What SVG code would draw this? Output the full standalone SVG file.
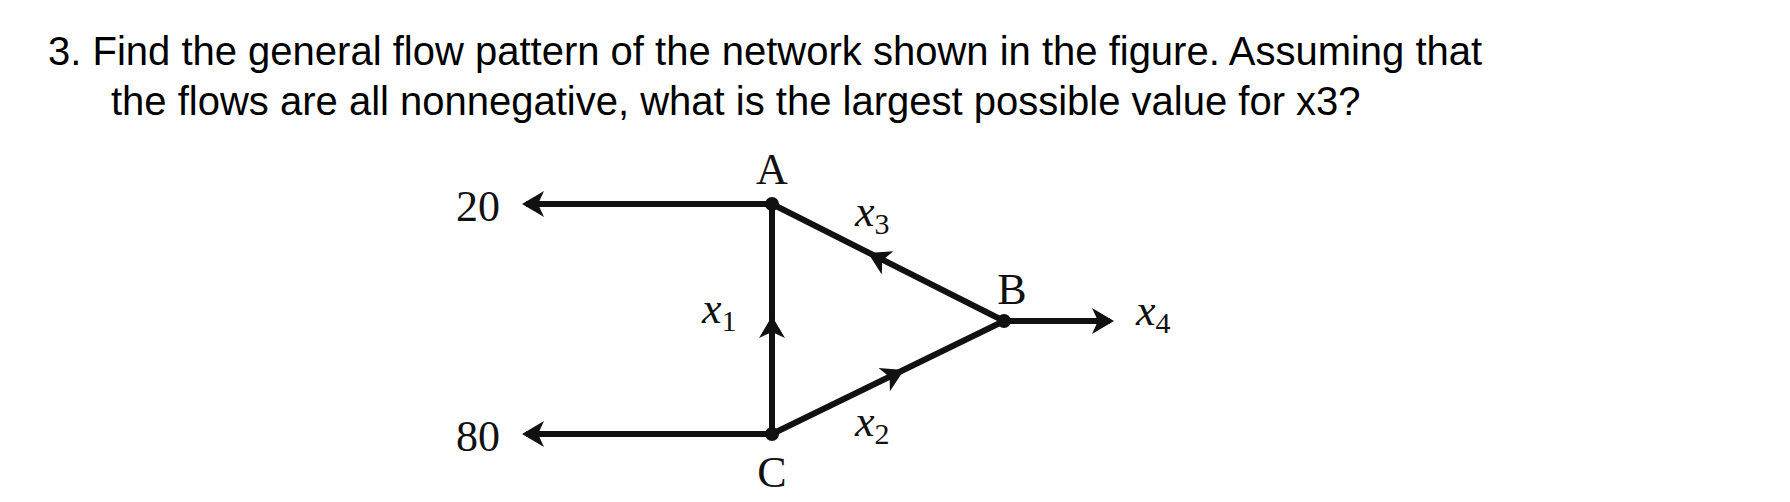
<svg xmlns="http://www.w3.org/2000/svg" width="1790" height="502" viewBox="0 0 1790 502">
<style>
.h{font-family:"Liberation Sans",Arial,sans-serif;font-size:40px;fill:#000}
.t{font-family:"Liberation Serif","Times New Roman",serif;font-size:44px;fill:#111}
.i{font-style:italic}
.s{font-size:30px}
.e{stroke:#111;stroke-width:6;fill:none}
</style>
<defs>
<path id="ah" d="M0,0 L-22,-13 L-16,0 L-22,13 Z" fill="#111"/>
</defs>
<rect width="1790" height="502" fill="#fff"/>
<text class="h" x="48" y="65">3.  Find the general flow pattern of the network shown in the figure. Assuming that</text>
<text class="h" x="111" y="115">the flows are all nonnegative, what is the largest possible value for x3?</text>
<g id="connectors">
<line class="e" x1="772" y1="204" x2="526" y2="204"/><use href="#ah" transform="translate(522,204) rotate(180)"/>
<line class="e" x1="772" y1="434" x2="526" y2="434"/><use href="#ah" transform="translate(522,434) rotate(180)"/>
<line class="e" x1="772" y1="434" x2="772" y2="204"/><use href="#ah" transform="translate(772,316) rotate(-90)"/>
<line class="e" x1="1004" y1="321" x2="772" y2="204"/><use href="#ah" transform="translate(868,253) rotate(206.8)"/>
<line class="e" x1="772" y1="434" x2="1004" y2="321"/><use href="#ah" transform="translate(904,370) rotate(-26)"/>
<line class="e" x1="1004" y1="321" x2="1110" y2="321"/><use href="#ah" transform="translate(1114,321)"/>
</g>
<g id="A"><circle cx="772" cy="204" r="7" fill="#111"/><text class="t" x="772" y="184" text-anchor="middle">A</text></g>
<g id="B"><circle cx="1004" cy="321" r="7" fill="#111"/><text class="t" x="1012" y="304" text-anchor="middle">B</text></g>
<g id="C"><circle cx="772" cy="434" r="7" fill="#111"/><text class="t" x="772" y="487" text-anchor="middle">C</text></g>
<g id="out20"><text class="t" x="456" y="221">20</text></g>
<g id="out80"><text class="t" x="456" y="451">80</text></g>
<g id="labels">
<text class="t" x="702" y="323"><tspan class="i">x</tspan><tspan class="s" dy="8">1</tspan></text>
<text class="t" x="855" y="436"><tspan class="i">x</tspan><tspan class="s" dy="8">2</tspan></text>
<text class="t" x="855" y="226"><tspan class="i">x</tspan><tspan class="s" dy="8">3</tspan></text>
<text class="t" x="1136" y="325"><tspan class="i">x</tspan><tspan class="s" dy="8">4</tspan></text>
</g>
</svg>
